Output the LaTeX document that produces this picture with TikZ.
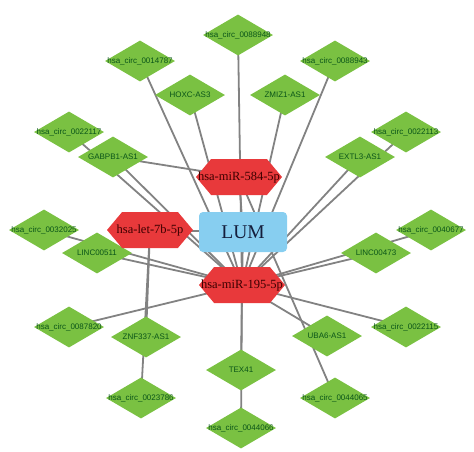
\documentclass[tikz,border=0pt]{standalone}
\usepackage{fontspec}
\setmainfont{Liberation Serif}
\setsansfont{Liberation Sans}
\usetikzlibrary{shapes.geometric,shapes.symbols,backgrounds}
\definecolor{rnagreen}{RGB}{122,193,66}
\definecolor{mired}{RGB}{232,57,59}
\definecolor{geneblue}{RGB}{135,206,240}
\definecolor{edgegray}{RGB}{130,130,130}
\definecolor{rnatext}{RGB}{10,85,25}
\definecolor{mitext}{RGB}{60,0,0}
\definecolor{genetext}{RGB}{20,30,60}
\newcommand{\ctext}[1]{\makebox[0pt]{#1}}

\begin{document}
\begin{tikzpicture}[x=1pt, y=-1pt,
    rna/.style={diamond, aspect=1.7, fill=rnagreen, minimum width=70pt, minimum height=41pt,
      inner sep=0pt, font=\sffamily\fontsize{8}{9}\selectfont, text=rnatext},
    mirna/.style={signal, signal to=east and west, signal pointer angle=100, fill=mired,
      minimum width=86pt, minimum height=36pt, inner sep=0pt,
      font=\fontsize{12.5}{13}\selectfont, text=mitext},
    gene/.style={rectangle, rounded corners=4pt, fill=geneblue, minimum width=88pt,
      minimum height=40pt, font=\fontsize{19.5}{20}\selectfont, text=genetext},
    edge/.style={draw=edgegray, line width=1.8pt}]
    \useasboundingbox (0,0) rectangle (474,451);

    % 上方
    \node[rna] (c14787) at (140,61) {\ctext{hsa\_circ\_0014787}};
    \node[rna] (hoxc) at (190,95) {\ctext{HOXC-AS3}};
    \node[rna] (c88948) at (238,35) {\ctext{hsa\_circ\_0088948}};
    \node[rna] (zmiz1) at (285,95) {\ctext{ZMIZ1-AS1}};
    \node[rna] (c88943) at (335,61) {\ctext{hsa\_circ\_0088943}};
    \node[rna] (c22117) at (69,132) {\ctext{hsa\_circ\_0022117}};
    \node[rna] (gabpb1) at (113,157) {\ctext{GABPB1-AS1}};
    \node[rna] (c22113) at (406,132) {\ctext{hsa\_circ\_0022113}};
    \node[rna] (extl3) at (360,157) {\ctext{EXTL3-AS1}};

    % 左右两侧
    \node[rna] (c32025) at (44,230) {\ctext{hsa\_circ\_0032025}};
    \node[rna] (linc511) at (97,253) {\ctext{LINC00511}};
    \node[rna] (c40677) at (431,230) {\ctext{hsa\_circ\_0040677}};
    \node[rna] (linc473) at (376,253) {\ctext{LINC00473}};

    % 下方
    \node[rna] (c87820) at (69,327) {\ctext{hsa\_circ\_0087820}};
    \node[rna] (znf337) at (146,337) {\ctext{ZNF337-AS1}};
    \node[rna] (c23786) at (141,398) {\ctext{hsa\_circ\_0023786}};
    \node[rna] (tex41) at (241,370) {\ctext{TEX41}};
    \node[rna] (c44066) at (241,428) {\ctext{hsa\_circ\_0044066}};
    \node[rna] (uba6) at (327,336) {\ctext{UBA6-AS1}};
    \node[rna] (c22115) at (406,327) {\ctext{hsa\_circ\_0022115}};
    \node[rna] (c44065) at (335,398) {\ctext{hsa\_circ\_0044065}};

    % miRNA 与 LUM
    \node[mirna] (mir584) at (239,177) {\ctext{hsa-miR-584-5p}};
    \node[mirna] (let7b) at (150,230) {\ctext{hsa-let-7b-5p}};
    \node[mirna] (mir195) at (242,285) {\ctext{hsa-miR-195-5p}};
    \node[gene] (lum) at (243,232) {LUM};

    % 连线
    \begin{scope}[on background layer]
    \draw[edge] (lum.center) -- (mir584.center);
    \draw[edge] (lum.center) -- (let7b.center);
    \draw[edge] (lum.center) -- (mir195.center);
    \draw[edge] (mir584.center) -- (gabpb1.center);
    \draw[edge] (mir584.center) -- (c44065.center);
    \draw[edge] (let7b.center) -- (znf337.center);
    \draw[edge] (let7b.center) -- (c23786.center);
    \draw[edge] (mir195.center) -- (c14787.center);
    \draw[edge] (mir195.center) -- (hoxc.center);
    \draw[edge] (mir195.center) -- (c88948.center);
    \draw[edge] (mir195.center) -- (zmiz1.center);
    \draw[edge] (mir195.center) -- (c88943.center);
    \draw[edge] (mir195.center) -- (c22117.center);
    \draw[edge] (mir195.center) -- (gabpb1.center);
    \draw[edge] (mir195.center) -- (c22113.center);
    \draw[edge] (mir195.center) -- (extl3.center);
    \draw[edge] (mir195.center) -- (c32025.center);
    \draw[edge] (mir195.center) -- (linc511.center);
    \draw[edge] (mir195.center) -- (c40677.center);
    \draw[edge] (mir195.center) -- (linc473.center);
    \draw[edge] (mir195.center) -- (c87820.center);
    \draw[edge] (mir195.center) -- (tex41.center);
    \draw[edge] (mir195.center) -- (c44066.center);
    \draw[edge] (mir195.center) -- (uba6.center);
    \draw[edge] (mir195.center) -- (c22115.center);
    \end{scope}
\end{tikzpicture}
\end{document}
